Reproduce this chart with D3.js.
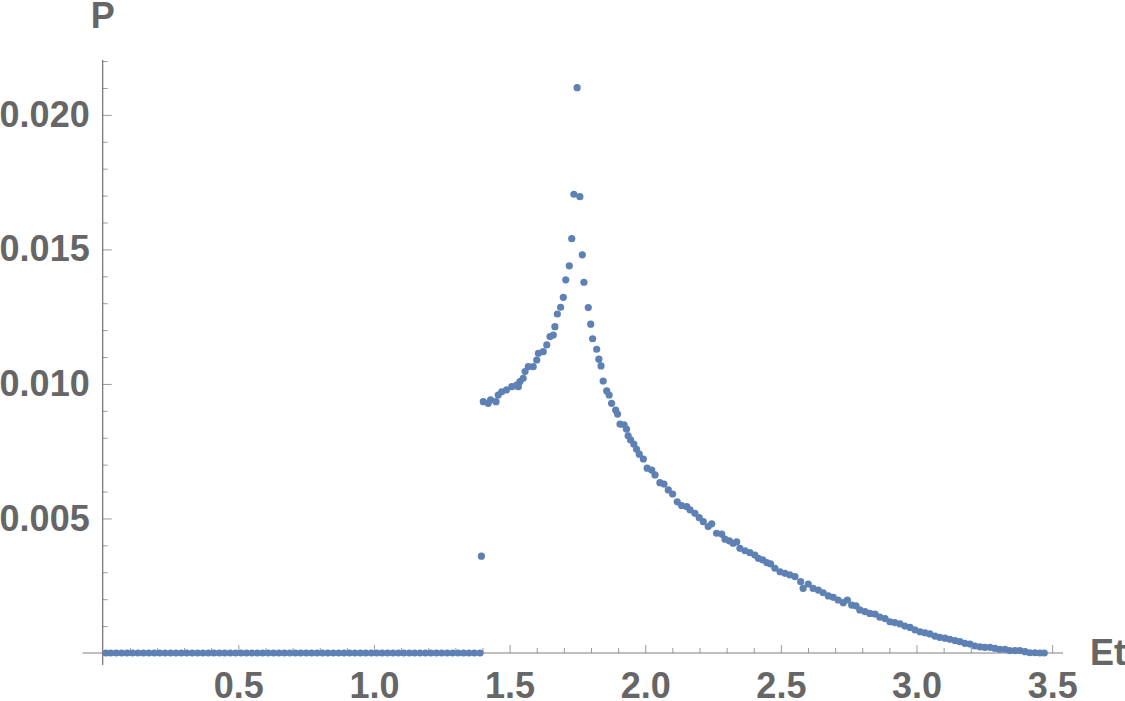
<!DOCTYPE html>
<html>
<head>
<meta charset="utf-8">
<script src="https://cdn.jsdelivr.net/npm/d3@7"></script>
<style>
  html, body { margin: 0; padding: 0; background: #fff; overflow: hidden; }
  text { font-family: "Liberation Sans", Arial, sans-serif; font-weight: bold; }
</style>
</head>
<body>
<script>
const wdth = 1125;
const hght = 701;

// Et values (x) and P values (y, in units of 1e-3)
const etValues = [
  0.012, 0.03, 0.05, 0.07, 0.09, 0.11, 0.13, 0.15, 0.17, 0.19, 0.21, 0.23, 0.25, 0.27, 0.29,
  0.31, 0.33, 0.35, 0.37, 0.39, 0.41, 0.43, 0.45, 0.47, 0.49, 0.51, 0.53, 0.55, 0.57, 0.59,
  0.61, 0.63, 0.65, 0.67, 0.69, 0.71, 0.73, 0.75, 0.77, 0.79, 0.81, 0.83, 0.85, 0.87, 0.89,
  0.91, 0.93, 0.95, 0.97, 0.99, 1.01, 1.03, 1.05, 1.07, 1.09, 1.11, 1.13, 1.15, 1.17, 1.19,
  1.21, 1.23, 1.25, 1.27, 1.29, 1.31, 1.33, 1.35, 1.37, 1.391,
  1.396, 1.403, 1.421, 1.430, 1.450, 1.458, 1.471, 1.489, 1.508, 1.526, 1.532, 1.538, 1.550,
  1.557, 1.569, 1.587, 1.600, 1.606, 1.624, 1.637, 1.649, 1.661, 1.667, 1.676, 1.688, 1.698,
  1.707, 1.720, 1.729, 1.737, 1.749, 1.759, 1.768, 1.774, 1.790, 1.799, 1.806, 1.821, 1.829,
  1.837, 1.845, 1.858, 1.867, 1.876, 1.891, 1.898, 1.907, 1.922, 1.931, 1.937, 1.946, 1.958,
  1.968, 1.978, 1.993, 2.007, 2.024, 2.036, 2.054, 2.069, 2.085, 2.101, 2.118, 2.134, 2.153,
  2.165, 2.183, 2.199, 2.214, 2.232, 2.245, 2.263, 2.282, 2.294, 2.310, 2.324, 2.337, 2.349,
  2.368, 2.386, 2.404, 2.417, 2.433, 2.448, 2.462, 2.478, 2.497, 2.515, 2.533, 2.552, 2.573,
  2.582, 2.601, 2.619, 2.638, 2.656, 2.675, 2.693, 2.711, 2.730, 2.745, 2.761, 2.777, 2.791,
  2.810, 2.828, 2.847, 2.865, 2.884, 2.902, 2.920, 2.939, 2.957, 2.976, 2.994, 3.013, 3.031,
  3.049, 3.068, 3.086, 3.105, 3.123, 3.142, 3.160, 3.178, 3.197, 3.215, 3.234, 3.252, 3.271,
  3.289, 3.307, 3.326, 3.344, 3.363, 3.381, 3.400, 3.418, 3.437, 3.455, 3.471
];

const pValues = [
  0, 0, 0, 0, 0, 0, 0, 0, 0, 0, 0, 0, 0, 0, 0,
  0, 0, 0, 0, 0, 0, 0, 0, 0, 0, 0, 0, 0, 0, 0,
  0, 0, 0, 0, 0, 0, 0, 0, 0, 0, 0, 0, 0, 0, 0,
  0, 0, 0, 0, 0, 0, 0, 0, 0, 0, 0, 0, 0, 0, 0,
  0, 0, 0, 0, 0, 0, 0, 0, 0, 0,
  3.60, 9.34, 9.28, 9.41, 9.34, 9.59, 9.71, 9.78, 9.90, 9.96, 9.90, 10.09, 10.21,
  10.46, 10.64, 10.64, 10.89, 11.14, 11.20, 11.45, 11.76, 11.82, 12.13, 12.60, 12.85, 13.22,
  13.87, 14.39, 15.40, 17.05, 21.01, 16.96, 14.80, 13.78, 12.84, 12.22, 11.68, 11.29, 10.92,
  10.67, 10.11, 9.74, 9.59, 9.28, 9.03, 8.88, 8.51, 8.48, 8.32, 8.07, 7.92, 7.76,
  7.57, 7.39, 7.21, 6.87, 6.80, 6.62, 6.33, 6.28, 6.06, 5.91, 5.62, 5.48, 5.44,
  5.32, 5.19, 5.03, 4.88, 4.70, 4.80, 4.45, 4.42, 4.23, 4.17, 4.08, 4.13, 3.89,
  3.80, 3.73, 3.64, 3.52, 3.46, 3.36, 3.31, 3.15, 3.02, 2.96, 2.90, 2.84, 2.65,
  2.40, 2.56, 2.40, 2.34, 2.24, 2.12, 2.07, 1.97, 1.87, 1.97, 1.78, 1.75, 1.60,
  1.54, 1.47, 1.45, 1.33, 1.28, 1.16, 1.13, 1.08, 1.00, 0.95, 0.86, 0.79, 0.75,
  0.71, 0.63, 0.58, 0.55, 0.51, 0.46, 0.42, 0.36, 0.33, 0.26, 0.23, 0.21, 0.21,
  0.17, 0.14, 0.14, 0.09, 0.09, 0.09, 0.05, 0.01, 0.01, 0.00, 0.00
];

const xMajorTicks = [0.5, 1.0, 1.5, 2.0, 2.5, 3.0, 3.5];
const xTickLabels = ["0.5", "1.0", "1.5", "2.0", "2.5", "3.0", "3.5"];
const yMajorTicks = [0.005, 0.010, 0.015, 0.020];
const yTickLabels = ["0.005", "0.010", "0.015", "0.020"];

const points = etValues.map((et, i) => ({ et: et, p: pValues[i] / 1000 }));

// minor ticks every 0.1 on x and every 0.001 on y, skipping the major ones
const xMinorTicks = d3.range(1, 36).map(i => i / 10).filter(v => notMajor(v, 2));
const yMinorTicks = d3.range(1, 23).map(i => i / 1000).filter(v => notMajor(v, 200));
function notMajor(v, k) { return Math.abs(v * k - Math.round(v * k)) > 1e-9; }

const x = d3.scaleLinear().domain([-0.0737, 3.54]).range([82.7, 1063]);
const y = d3.scaleLinear().domain([-0.000446, 0.02204]).range([665, 60]);

const svg = d3
  .select("body")
  .append("svg")
  .attr("width", wdth)
  .attr("height", hght);

const textColor = "#666666";
const tickColor = "#9a9a9a";
const axisColor = "#808080";

const styleLabels = g => g.selectAll("text")
  .attr("fill", textColor)
  .style("font-size", "36px")
  .style("font-family", "'Liberation Sans', Arial, sans-serif")
  .style("font-weight", "bold");

// x axis, minor ticks
svg
  .append("g")
  .attr("transform", "translate(0," + y(0) + ")")
  .call(d3.axisBottom(x).tickValues(xMinorTicks).tickSize(-5).tickFormat(""))
  .call(g => g.select(".domain").remove())
  .call(g => g.selectAll("line").attr("stroke", tickColor));

// x axis, major ticks + labels
svg
  .append("g")
  .attr("transform", "translate(0," + y(0) + ")")
  .call(
    d3.axisBottom(x)
      .tickValues(xMajorTicks)
      .tickSize(-8)
      .tickPadding(19)
      .tickFormat((d, i) => xTickLabels[i])
  )
  .call(g => g.select(".domain").remove())
  .call(g => g.selectAll("line").attr("stroke", tickColor))
  .call(styleLabels);

// y axis, minor ticks
svg
  .append("g")
  .attr("transform", "translate(" + x(0) + ",0)")
  .call(d3.axisLeft(y).tickValues(yMinorTicks).tickSize(-5).tickFormat(""))
  .call(g => g.select(".domain").remove())
  .call(g => g.selectAll("line").attr("stroke", tickColor));

// y axis, major ticks + labels
svg
  .append("g")
  .attr("transform", "translate(" + x(0) + ",0)")
  .call(
    d3.axisLeft(y)
      .tickValues(yMajorTicks)
      .tickSize(-9)
      .tickPadding(13)
      .tickFormat((d, i) => yTickLabels[i])
  )
  .call(g => g.select(".domain").remove())
  .call(g => g.selectAll("line").attr("stroke", tickColor))
  .call(styleLabels);

// axis lines
svg
  .append("line")
  .attr("x1", x.range()[0])
  .attr("x2", x.range()[1])
  .attr("y1", y(0))
  .attr("y2", y(0))
  .attr("stroke", axisColor)
  .attr("stroke-width", 1.2);

svg
  .append("line")
  .attr("x1", x(0))
  .attr("x2", x(0))
  .attr("y1", y.range()[0])
  .attr("y2", y.range()[1])
  .attr("stroke", "#707070")
  .attr("stroke-width", 1.2);

// axis titles
svg
  .append("text")
  .text("Et")
  .attr("x", x.range()[1] + 27)
  .attr("y", y(0) + 12)
  .attr("fill", textColor)
  .style("font-size", "36px");

svg
  .append("text")
  .text("P")
  .attr("x", x(0))
  .attr("y", 28)
  .attr("text-anchor", "middle")
  .attr("fill", textColor)
  .style("font-size", "36px");

// points
svg
  .append("g")
  .selectAll("circle")
  .data(points)
  .enter()
  .append("circle")
  .attr("cx", d => x(d.et))
  .attr("cy", d => y(d.p))
  .attr("r", 3.6)
  .attr("fill", "#5e81b5");
</script>
</body>
</html>
